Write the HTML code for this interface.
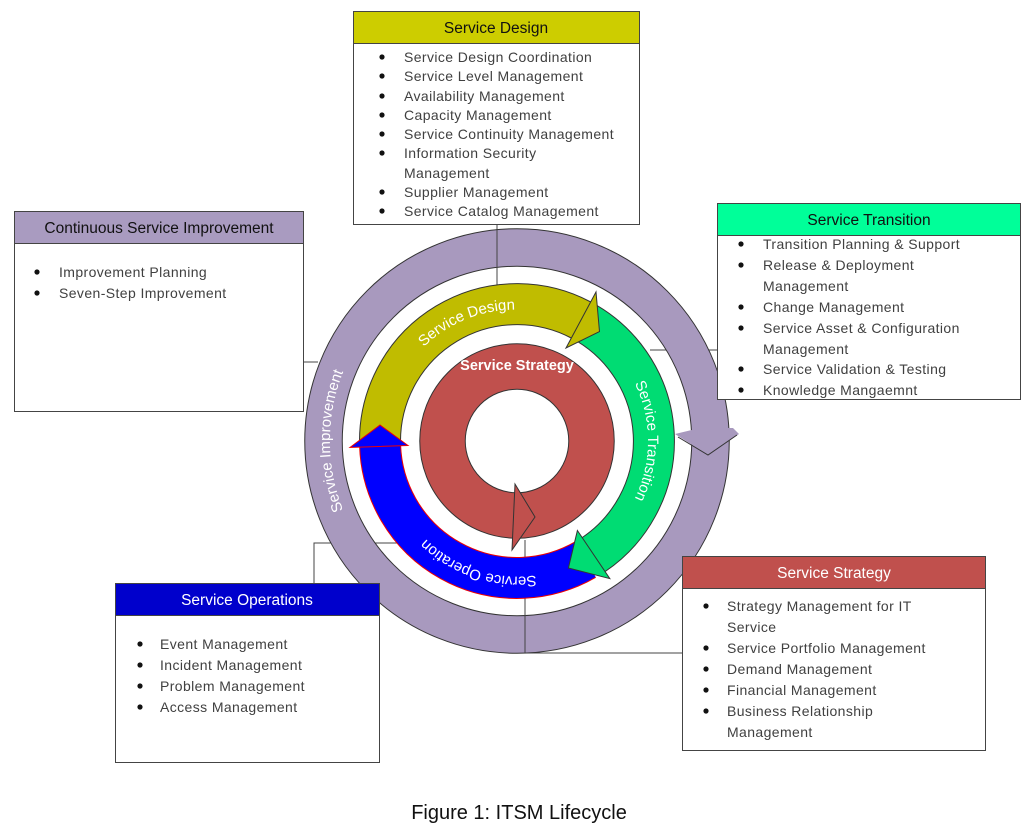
<!DOCTYPE html>
<html><head><meta charset="utf-8"><style>
html,body{margin:0;padding:0;background:#fff;}
svg{display:block;font-family:"Liberation Sans",sans-serif;}
.it{font-size:14px;fill:#404040;letter-spacing:0.4px;}
.hd{font-size:15.5px;text-anchor:middle;}
.bx{fill:#fff;stroke:#444;stroke-width:1;}
.ln{stroke:#444;stroke-width:1;fill:none;}
.arc{font-size:15px;fill:#fff;}
</style></head><body>
<svg width="1035" height="830" viewBox="0 0 1035 830" xmlns="http://www.w3.org/2000/svg">
<defs>
<path id="pDesign" d="M 393.9 489.9 A 131 131 0 0 1 544.2 312.9"/>
<path id="pTrans" d="M 617.4 356.8 A 131 131 0 0 1 617.4 525.2"/>
<path id="pOper" d="M 584.2 558.6 A 131 131 0 0 1 393.9 488"/>
<path id="pImp" d="M 396.8 584.3 A 187 187 0 0 1 396.8 297.7"/>
</defs>

<!-- connectors -->
<line class="ln" x1="497" y1="225" x2="497" y2="285"/>
<line class="ln" x1="304" y1="362" x2="318" y2="362"/>
<line class="ln" x1="650" y1="350" x2="717" y2="350"/>
<polyline class="ln" points="314,583 314,543 400,543"/>
<polyline class="ln" points="525,540 525,653 682,653"/>

<!-- outer purple ring -->
<circle cx="517" cy="441" r="193.5" fill="none" stroke="#333" stroke-width="38.5"/>
<circle cx="517" cy="441" r="193.5" fill="none" stroke="#a899be" stroke-width="36.5"/>
<polygon points="675,434 708,455 739,434 733,428 700,428" fill="#a899be"/>
<polyline points="678,437 708,455 737,435" fill="none" stroke="#333" stroke-width="1"/>
<line class="ln" x1="497" y1="230" x2="497" y2="268"/>
<line class="ln" x1="525" y1="615" x2="525" y2="653"/>

<!-- red inner ring -->
<circle cx="517" cy="441" r="74.5" fill="none" stroke="#333" stroke-width="46.5"/>
<circle cx="517" cy="441" r="74.5" fill="none" stroke="#c0504d" stroke-width="44.5"/>
<polygon points="515,484 512,550 535,517" fill="#c0504d" stroke="#333" stroke-width="1"/>
<text x="517" y="370" text-anchor="middle" font-size="14.5" font-weight="bold" fill="#fff">Service Strategy</text>

<!-- middle band bodies -->
<path d="M 585.5 559.6 A 137 137 0 0 1 380.1 445.8" fill="none" stroke="#e00" stroke-width="42"/>
<path d="M 585.5 559.6 A 137 137 0 0 1 380.1 445.8" fill="none" stroke="#0000ff" stroke-width="40"/>
<path d="M 581 320 A 137 137 0 0 1 593.6 554.6" fill="none" stroke="#333" stroke-width="42"/>
<path d="M 581 320 A 137 137 0 0 1 593.6 554.6" fill="none" stroke="#00dc73" stroke-width="40"/>
<path d="M 380 441 A 137 137 0 0 1 581 320" fill="none" stroke="#333" stroke-width="42"/>
<path d="M 380 441 A 137 137 0 0 1 581 320" fill="none" stroke="#c0bc00" stroke-width="40"/>
<!-- heads -->
<polygon points="566,348 596,292 599.5,331.6" fill="#c0bc00" stroke="#333" stroke-width="1"/>
<polygon points="577.4,530.5 609.8,578.6 568.4,568" fill="#00dc73" stroke="#333" stroke-width="1"/>
<polygon points="408,445.5 350,447.5 380,425" fill="#0000ff" stroke="#e00" stroke-width="1"/>

<!-- arc labels -->
<text class="arc"><textPath href="#pDesign" startOffset="72%" text-anchor="middle">Service Design</textPath></text>
<text class="arc"><textPath href="#pTrans" startOffset="50%" text-anchor="middle">Service Transition</textPath></text>
<text class="arc"><textPath href="#pOper" startOffset="48%" text-anchor="middle">Service Operation</textPath></text>
<text class="arc" fill="#eee"><textPath href="#pImp" startOffset="50%" text-anchor="middle">Service Improvement</textPath></text>

<!-- Service Design box -->
<rect class="bx" x="353.5" y="11.5" width="286" height="213"/>
<rect x="353.5" y="11.5" width="286" height="32" fill="#cdcd00" stroke="#444"/>
<text class="hd" x="496" y="33" fill="#111">Service Design</text>
<g class="it">
<text x="404" y="62">Service Design Coordination</text>
<text x="404" y="81">Service Level Management</text>
<text x="404" y="101">Availability Management</text>
<text x="404" y="120">Capacity Management</text>
<text x="404" y="139">Service Continuity Management</text>
<text x="404" y="158">Information Security</text>
<text x="404" y="178">Management</text>
<text x="404" y="197">Supplier Management</text>
<text x="404" y="216">Service Catalog Management</text>
</g>
<g fill="#111"><circle cx="382" cy="57" r="2.6"/><circle cx="382" cy="76" r="2.6"/><circle cx="382" cy="96" r="2.6"/><circle cx="382" cy="115" r="2.6"/><circle cx="382" cy="134" r="2.6"/><circle cx="382" cy="153" r="2.6"/><circle cx="382" cy="192" r="2.6"/><circle cx="382" cy="211" r="2.6"/></g>

<!-- CSI box -->
<rect class="bx" x="14.5" y="211.5" width="289" height="200"/>
<rect x="14.5" y="211.5" width="289" height="32" fill="#a99bc0" stroke="#444"/>
<text class="hd" x="159" y="233" fill="#111">Continuous Service Improvement</text>
<g class="it"><text x="59" y="277">Improvement Planning</text><text x="59" y="298">Seven-Step Improvement</text></g>
<g fill="#111"><circle cx="37" cy="272" r="2.6"/><circle cx="37" cy="293" r="2.6"/></g>

<!-- Service Transition box -->
<rect class="bx" x="717.5" y="203.5" width="303" height="196"/>
<rect x="717.5" y="203.5" width="303" height="32" fill="#00ff99" stroke="#444"/>
<text class="hd" x="869" y="225" fill="#111">Service Transition</text>
<g class="it">
<text x="763" y="249">Transition Planning &amp; Support</text>
<text x="763" y="270">Release &amp; Deployment</text>
<text x="763" y="291">Management</text>
<text x="763" y="312">Change Management</text>
<text x="763" y="333">Service Asset &amp; Configuration</text>
<text x="763" y="354">Management</text>
<text x="763" y="374">Service Validation &amp; Testing</text>
<text x="763" y="395">Knowledge Mangaemnt</text>
</g>
<g fill="#111"><circle cx="741" cy="244" r="2.6"/><circle cx="741" cy="265" r="2.6"/><circle cx="741" cy="307" r="2.6"/><circle cx="741" cy="328" r="2.6"/><circle cx="741" cy="369" r="2.6"/><circle cx="741" cy="390" r="2.6"/></g>

<!-- Service Strategy box -->
<rect class="bx" x="682.5" y="556.5" width="303" height="194"/>
<rect x="682.5" y="556.5" width="303" height="32" fill="#c0504d" stroke="#444"/>
<text class="hd" x="834" y="578" fill="#fff">Service Strategy</text>
<g class="it">
<text x="727" y="611">Strategy Management for IT</text>
<text x="727" y="632">Service</text>
<text x="727" y="653">Service Portfolio Management</text>
<text x="727" y="674">Demand Management</text>
<text x="727" y="695">Financial Management</text>
<text x="727" y="716">Business Relationship</text>
<text x="727" y="737">Management</text>
</g>
<g fill="#111"><circle cx="706" cy="606" r="2.6"/><circle cx="706" cy="648" r="2.6"/><circle cx="706" cy="669" r="2.6"/><circle cx="706" cy="690" r="2.6"/><circle cx="706" cy="711" r="2.6"/></g>

<!-- Service Operations box -->
<rect class="bx" x="115.5" y="583.5" width="264" height="179"/>
<rect x="115.5" y="583.5" width="264" height="32" fill="#0000cc" stroke="#444"/>
<text class="hd" x="247" y="605" fill="#fff">Service Operations</text>
<g class="it">
<text x="160" y="649">Event Management</text>
<text x="160" y="670">Incident Management</text>
<text x="160" y="691">Problem Management</text>
<text x="160" y="712">Access Management</text>
</g>
<g fill="#111"><circle cx="140" cy="644" r="2.6"/><circle cx="140" cy="665" r="2.6"/><circle cx="140" cy="686" r="2.6"/><circle cx="140" cy="707" r="2.6"/></g>

<text x="519" y="819" text-anchor="middle" font-size="20" fill="#111">Figure 1: ITSM Lifecycle</text>
</svg>
</body></html>
